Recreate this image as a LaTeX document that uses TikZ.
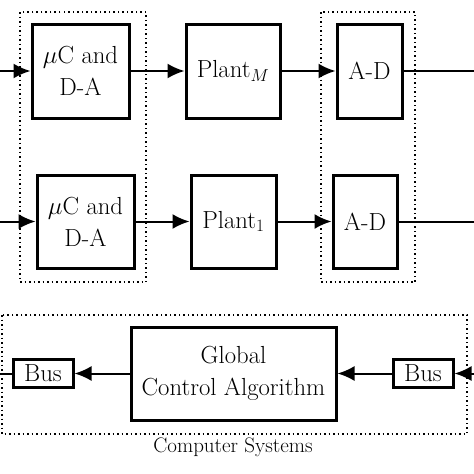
\documentclass[tikz,border=0pt]{standalone}
\usetikzlibrary{arrows.meta}
\begin{document}
\begin{tikzpicture}[x=1pt,y=-1pt,
  blk/.style={draw,line width=3pt,inner sep=0pt,align=center,
    font=\fontsize{24.7}{32}\selectfont},
  conn/.style={line width=2pt},
  arr/.style={conn,-{Latex[length=17pt,width=15pt]}},
  grp/.style={line width=1.5pt,dash pattern=on 1.5pt off 3pt}]
\useasboundingbox (0,0) rectangle (474,474);
% groups
\draw[grp] (20,12) rectangle (146,282);
\draw[grp] (321,12) rectangle (415,282);
\draw[grp] (2,315) rectangle (467,434);
% top row
\node[blk,minimum width=97pt,minimum height=94pt] (mc1) at (80.5,71) {$\mu$C and\\D-A};
\node[blk,minimum width=94pt,minimum height=94pt] (pm) at (233,71) {Plant$_M$};
\node[blk,minimum width=65pt,minimum height=94pt] (ad1) at (369.5,71) {A-D};
% bottom row
\node[blk,minimum width=97pt,minimum height=93pt] (mc2) at (85.5,221.5) {$\mu$C and\\D-A};
\node[blk,minimum width=85pt,minimum height=93pt] (p1) at (233.5,221.5) {Plant$_1$};
\node[blk,minimum width=64pt,minimum height=93pt] (ad2) at (365,221.5) {A-D};
% computer systems
\node[blk,minimum width=205pt,minimum height=93pt] (gca) at (233.5,373.5) {Global\\Control Algorithm};
\node[blk,minimum width=60pt,minimum height=28pt] (busl) at (43,373.5) {Bus};
\node[blk,minimum width=60pt,minimum height=28pt] (busr) at (423,373.5) {Bus};
\node[font=\fontsize{21}{25}\selectfont] (cs) at (233,447) {Computer Systems};
% free ends
\coordinate (in1) at (0,71);
\coordinate (in2) at (0,221.5);
\coordinate (out1) at (474,71);
\coordinate (out2) at (474,221.5);
\coordinate (outb) at (0,373.5);
\coordinate (inb) at (474,373.5);
% connectors
\draw[arr] (in1) -- (mc1.west);
\draw[arr] (mc1.east) -- (pm.west);
\draw[arr] (pm.east) -- (ad1.west);
\draw[conn] (ad1.east) -- (out1);
\draw[arr] (in2) -- (mc2.west);
\draw[arr] (mc2.east) -- (p1.west);
\draw[arr] (p1.east) -- (ad2.west);
\draw[conn] (ad2.east) -- (out2);
\draw[arr] (gca.west) -- (busl.east);
\draw[conn] (busl.west) -- (outb);
\draw[arr] (busr.west) -- (gca.east);
\draw[arr] (inb) -- (busr.east);
\end{tikzpicture}
\end{document}
